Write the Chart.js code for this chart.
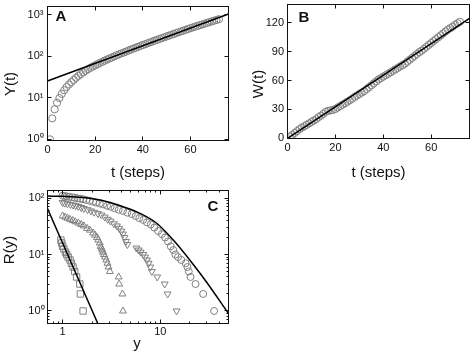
<!DOCTYPE html>
<html><head><meta charset="utf-8">
<script src="https://cdn.jsdelivr.net/npm/chart.js@4.4.1/dist/chart.umd.min.js"></script>
<style>
html,body{margin:0;padding:0;background:#fff;}
#wrap{position:relative;width:474px;height:356px;overflow:hidden;background:#fff;}
canvas{position:absolute;left:0;top:0;width:474px;height:356px;}
</style></head><body>
<div id="wrap">
<canvas id="cA" width="474" height="356"></canvas>
<canvas id="cB" width="474" height="356"></canvas>
<canvas id="cC" width="474" height="356"></canvas>
</div>
<script>
// ---------- Panel A : Y(t) ----------
const tSteps = [1,2,3,4,5,6,7,8,9,10,11,12,13,14,15,16,17,18,19,20,21,22,23,24,25,26,27,28,29,30,31,32,33,34,35,36,37,38,39,40,41,42,43,44,45,46,47,48,49,50,51,52,53,54,55,56,57,58,59,60,61,62,63,64,65,66,67,68,69,70,71,72];
const yValuesA = [1,3.2,5.3,7.6,9.9,12.5,15.3,18.2,21,24,
  27,30.5,34,37.5,41,45,49,53,57,61,
  65,69.5,74,79,84,89,94,100,106,112,
  118,124,131,138,146,154,162,170,179,188,
  197,207,218,228,240,251,263,276,289,303,
  317,332,348,365,382,400,418,438,459,480,
  500,522,544,568,592,617,644,671,700,730,
  759,790];
const fitAT = [0, 76];
const fitAY = [25.6, 1054];
const xTicksA = [0,20,40,60];
const xLabelsA = ['0','20','40','60'];
const yTicksA = [1,10,100,1000];
const yLabelsA = ['10\u2070','10\u00B9','10\u00B2','10\u00B3'];

// ---------- Panel B : W(t) ----------
const wValuesB = [2,3.5,5.5,7.5,9.5,11,12.5,14,15.5,17,
  18.5,20,22,23.5,25.5,27.5,28.5,29,29.5,30.5,
  32,33.5,35,36.5,38,39.5,41,43,44.5,46,
  47.5,49,51,53,55,57,59,61,62.5,64,
  65.5,67,68.5,70,71.5,73,74.5,76,77.5,79.5,
  81.5,83.5,85.5,87.5,89.5,91,93,95,97,99,
  101,103,105,107,109,111,113,114.5,116,118,
  119.5,121];
const fitBT = [0, 76];
const fitBW = [0, 124.5];
const xTicksB = [0,20,40,60];
const xLabelsB = ['0','20','40','60'];
const yTicksB = [0,30,60,90,120];
const yLabelsB = ['0','30','60','90','120'];

// ---------- Panel C : R(y) ----------
const circY = [1.0,1.05,1.1,1.17,1.25,1.33,1.42,1.52,1.62,1.75,1.9,2.05,2.2,2.4,2.6,2.85,3.1,3.4,3.75,4.15,4.6,5.1,5.6,6.1,6.7,7.3,8.0,8.7,9.5,10.4,11.2,12.0,12.8,13.6,14.3,15.2,16.4,18.2,19.0,19.6,20.4,23,27.5,35.6];
const circR = [110,108,107,105,103,101,99,97,95,92,89,86,83,80,77,73,70,66,62,59,55,52,48,44,41,37,34,30,26,23,20,17,14,12,10,9,8,7,6,5,4,3,2,1];
const triDownY = [1.0,1.05,1.12,1.2,1.28,1.36,1.45,1.55,1.65,1.8,1.95,2.1,2.3,2.5,2.7,2.9,3.1,3.35,3.6,3.8,4.0,4.15,4.3,4.45,4.6,5.7,6.0,6.3,6.7,7.0,7.3,7.6,7.9,8.2,9.3,11.1,11.9,14.7];
const triDownR = [83,81,79,77,75,73,71,68,65,62,59,56,53,50,46,42,39,35,32,29,26,23,20,17,15,13,12,11,10,9,8,7,6,5,4,3,2,1];
const triUpY = [1.0,1.06,1.12,1.19,1.27,1.35,1.45,1.55,1.65,1.78,1.9,2.05,2.15,2.25,2.32,2.4,2.45,2.5,2.55,2.6,2.65,2.72,2.8,2.88,2.95,3.05,3.75,3.8,4.1,4.15];
const triUpR = [48,46,44,42,40,38,36,34,32,29,27,24,22,20,18,16,14,13,12,11,10,9,8,7,6,5,4,3,2,1];
const squareY = [0.96,0.98,1.0,1.03,1.07,1.1,1.14,1.19,1.23,1.28,1.33,1.39,1.5,1.52,1.62];
const squareR = [18,16,14,12.5,11,10,9,8,7,6,5,4,3,2,1];
const upperFitY = [0.7,1,1.5,1.9,2.5,3,4.17,6.2,9.2,13.6,20.9,30,50];
const upperFitR = [108,107,103,99,91,84,70,53.6,35.7,18,7.3,3.2,0.9];
const steepFitY = [0.7, 2.3];
const steepFitR = [65, 0.59];
const xTicksC = [1,10];
const xLabelsC = ['1','10'];
const yTicksC = [1,10,100];
const yLabelsC = ['10\u2070','10\u00B9','10\u00B2'];

// ---------- helpers ----------
const FONT = '"Liberation Sans", Arial, Helvetica, sans-serif';
const GREY = '#808080';
const W = 474, H = 356;
const pts = (xs, ys) => xs.map((x, i) => ({x: x, y: ys[i]}));

function markerSet(xs, ys, style, rot, r) {
  return {data: pts(xs, ys), showLine: false, pointStyle: style, pointRotation: rot || 0,
    pointRadius: r, pointHoverRadius: r, pointBorderColor: GREY, pointBackgroundColor: 'rgba(0,0,0,0)',
    pointBorderWidth: 1};
}
function lineSet(xs, ys, smooth) {
  return {data: pts(xs, ys), showLine: true, pointRadius: 0, pointHoverRadius: 0, borderColor: '#000',
    borderWidth: 1.5, fill: false, tension: 0, cubicInterpolationMode: smooth ? 'monotone' : 'default'};
}

function axis(ax, dir, leftW, bottomH) {
  return {
    type: ax.type, position: dir === 'x' ? 'bottom' : 'left',
    min: ax.min, max: ax.max,
    grid: {display: false, drawTicks: false},
    border: {display: false},
    ticks: {autoSkip: false, maxRotation: 0, minRotation: 0, padding: ax.pad, color: '#111',
      font: {family: FONT, size: 11},
      callback: function(v) { const i = ax.ticks.indexOf(v); return i >= 0 ? ax.labels[i] : ''; }},
    afterBuildTicks: function(s) { s.ticks = ax.ticks.map(v => ({value: v})); },
    afterFit: function(s) {
      if (dir === 'x') s.height = bottomH; else s.width = leftW;
      s.paddingLeft = 0; s.paddingRight = 0; s.paddingTop = 0; s.paddingBottom = 0;
    }
  };
}

function minorValues(scale) {
  const out = [];
  const lo = Math.floor(Math.log10(scale.min)), hi = Math.ceil(Math.log10(scale.max));
  for (let d = lo; d <= hi; d++) {
    for (let m = 2; m <= 9; m++) {
      const v = m * Math.pow(10, d);
      if (v > scale.min && v < scale.max) out.push(v);
    }
  }
  return out;
}

const panelPlugin = {
  id: 'panel',
  afterDraw(chart, args, o) {
    const ctx = chart.ctx, a = chart.chartArea;
    const xs = chart.scales.x, ys = chart.scales.y;
    ctx.save();
    ctx.strokeStyle = '#111';
    ctx.lineWidth = 1;
    ctx.strokeRect(a.left, a.top, a.right - a.left, a.bottom - a.top);
    const snap = p => Math.round(p - 0.5) + 0.5;
    ctx.beginPath();
    const addX = (v, len) => {
      const p = snap(xs.getPixelForValue(v));
      if (p < a.left + 1 || p > a.right - 1) return;
      ctx.moveTo(p, a.bottom); ctx.lineTo(p, a.bottom - len);
      ctx.moveTo(p, a.top); ctx.lineTo(p, a.top + len);
    };
    const addY = (v, len) => {
      const p = snap(ys.getPixelForValue(v));
      if (p < a.top + 1 || p > a.bottom - 1) return;
      ctx.moveTo(a.left, p); ctx.lineTo(a.left + len, p);
      ctx.moveTo(a.right, p); ctx.lineTo(a.right - len, p);
    };
    xs.ticks.forEach(t => addX(t.value, 4));
    ys.ticks.forEach(t => addY(t.value, 4));
    if (o.minorX) minorValues(xs).forEach(v => addX(v, 2));
    if (o.minorY) minorValues(ys).forEach(v => addY(v, 2));
    ctx.stroke();
    ctx.fillStyle = '#111';
    ctx.textAlign = 'center';
    ctx.textBaseline = 'middle';
    (o.texts || []).forEach(t => {
      ctx.save();
      ctx.font = t.font;
      ctx.translate(t.x, t.y);
      if (t.rot) ctx.rotate(t.rot);
      ctx.fillText(t.t, 0, 0);
      ctx.restore();
    });
    ctx.restore();
  }
};

function makeChart(id, cfg) {
  const ar = cfg.area; // left, top, right, bottom (page pixels)
  return new Chart(document.getElementById(id), {
    type: 'scatter',
    data: {datasets: cfg.datasets},
    options: {
      responsive: false, maintainAspectRatio: false, animation: false, devicePixelRatio: 1,
      events: [],
      layout: {autoPadding: false, padding: {left: 0, top: ar[1], right: W - ar[2], bottom: H - ar[3] - 24}},
      plugins: {legend: {display: false}, tooltip: {enabled: false}, title: {display: false}, panel: cfg.panel},
      scales: {x: axis(cfg.x, 'x', ar[0], 24), y: axis(cfg.y, 'y', ar[0], 24)}
    },
    plugins: [panelPlugin]
  });
}

const TITLE = '15px ' + FONT;
const LETTER = 'bold 15px ' + FONT;

makeChart('cA', {
  area: [47.5, 6.5, 228.5, 140.5],
  datasets: [lineSet(fitAT, fitAY), markerSet(tSteps, yValuesA, 'circle', 0, 3.6)],
  x: {type: 'linear', min: 0, max: 76, ticks: xTicksA, labels: xLabelsA, pad: 3},
  y: {type: 'logarithmic', min: 0.936, max: 1600, ticks: yTicksA, labels: yLabelsA, pad: 4},
  panel: {minorX: false, minorY: false, texts: [
    {t: 'A', x: 61, y: 17, font: LETTER},
    {t: 'Y(t)', x: 11, y: 84, font: TITLE, rot: -Math.PI / 2},
    {t: 't (steps)', x: 138, y: 173.3, font: TITLE}
  ]}
});

makeChart('cB', {
  area: [287.5, 4.5, 469.5, 138.5],
  datasets: [lineSet(fitBT, fitBW), markerSet(tSteps, wValuesB, 'circle', 0, 3.6)],
  x: {type: 'linear', min: 0, max: 76, ticks: xTicksB, labels: xLabelsB, pad: 3},
  y: {type: 'linear', min: -0.2, max: 139, ticks: yTicksB, labels: yLabelsB, pad: 3.5},
  panel: {minorX: false, minorY: false, texts: [
    {t: 'B', x: 304, y: 18, font: LETTER},
    {t: 'W(t)', x: 258.5, y: 84, font: TITLE, rot: -Math.PI / 2},
    {t: 't (steps)', x: 378.5, y: 173.3, font: TITLE}
  ]}
});

makeChart('cC', {
  area: [47.5, 190.5, 228.5, 323.5],
  datasets: [
    lineSet(upperFitY, upperFitR, true),
    lineSet(steepFitY, steepFitR),
    markerSet(circY, circR, 'circle', 0, 3.5),
    markerSet(triDownY, triDownR, 'triangle', 180, 4),
    markerSet(triUpY, triUpR, 'triangle', 0, 4),
    markerSet(squareY, squareR, 'rect', 0, 4.5)
  ],
  x: {type: 'logarithmic', min: 0.7, max: 50, ticks: xTicksC, labels: xLabelsC, pad: 2},
  y: {type: 'logarithmic', min: 0.601, max: 135.8, ticks: yTicksC, labels: yLabelsC, pad: 3},
  panel: {minorX: true, minorY: true, texts: [
    {t: 'C', x: 213, y: 207, font: LETTER},
    {t: 'R(y)', x: 10, y: 250, font: TITLE, rot: -Math.PI / 2},
    {t: 'y', x: 137, y: 344, font: TITLE}
  ]}
});
</script>
</body></html>
